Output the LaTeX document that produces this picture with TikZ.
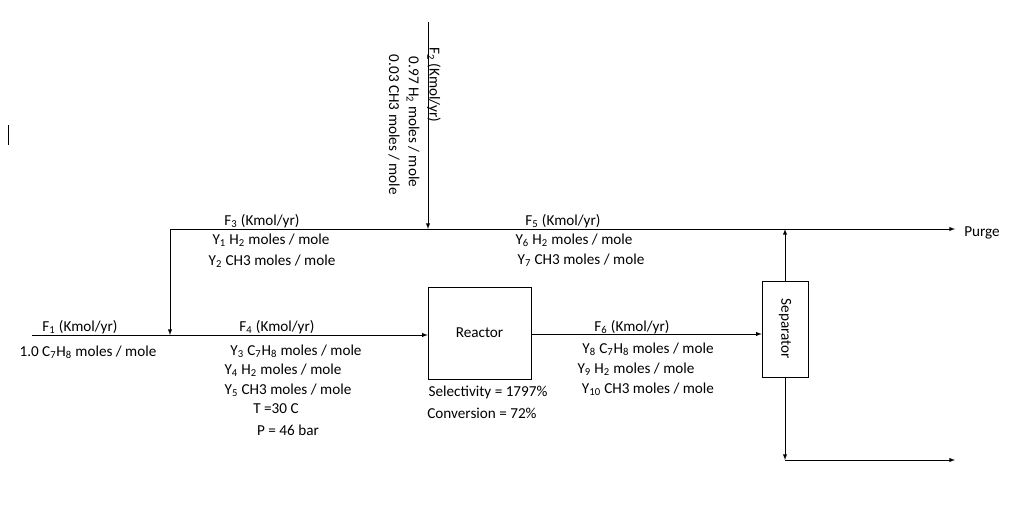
\documentclass[tikz,border=0pt]{standalone}
\usepackage{fontspec}
\setmainfont{Carlito}
\usetikzlibrary{arrows,positioning,calc}
\newcommand{\sub}[1]{\textsubscript{#1}}
\begin{document}
\begin{tikzpicture}[x=0.025cm,y=-0.025cm,font=\fontsize{10.8}{12}\selectfont,
  lbl/.style={inner sep=0pt,anchor=center}]
\useasboundingbox (0,0) rectangle (1024,506);
\draw (8,125) -- (8,145);
% units
\node[draw,minimum width=103*0.025cm,minimum height=92*0.025cm,inner sep=0pt] (reactor) at (479.5,333) {Reactor};
\node[draw,minimum width=96*0.025cm,minimum height=46*0.025cm,inner sep=0pt,rotate=-90] (sep) at (785,329) {Separator};
% stream points
\coordinate (f1) at (32,335);
\coordinate (mix) at (170,335);
\coordinate (split) at (170,229);
\coordinate (f2) at (428,22);
\coordinate (join) at (428,229);
\coordinate (top) at (785,229);
\coordinate (purge) at (955,229);
\coordinate (bot) at (785,460);
\coordinate (prod) at (955,460);
% streams
\draw (f1) -- (mix);
\draw[-latex] (join) -- (split) -- (mix);
\draw[-latex] (f2) -- (join);
\draw[-latex] (split) -- (purge);
\draw[-latex] (mix) -- (reactor.west|-mix);
\draw[-latex] (reactor.east|-0,334) -- (sep.south|-0,334);
\draw[-latex] (sep.west) -- (top);
\draw[-latex] (sep.east) -- (bot);
\draw[-latex] (bot) -- (prod);
% labels
\node[lbl] (purgeL) at (982,233) {Purge};
\node[lbl,rotate=-90] (t2a) at (434,85) {F\sub{2} (Kmol/yr)};
\node[lbl,rotate=-90] (t2b) at (413,122) {0.97 H\sub{2} moles / mole};
\node[lbl,rotate=-90] (t2c) at (394,125) {0.03 CH3 moles / mole};
\node[lbl] (t1a) at (80,327) {F\sub{1} (Kmol/yr)};
\node[lbl] (t1b) at (88,352) {1.0 C\sub{7}H\sub{8} moles / mole};
\node[lbl] (t3a) at (262,221) {F\sub{3} (Kmol/yr)};
\node[lbl] (t3b) at (271,240) {Y\sub{1} H\sub{2} moles / mole};
\node[lbl] (t3c) at (272,261) {Y\sub{2} CH3 moles / mole};
\node[lbl] (t5a) at (563,221) {F\sub{5} (Kmol/yr)};
\node[lbl] (t5b) at (574,240) {Y\sub{6} H\sub{2} moles / mole};
\node[lbl] (t5c) at (581,260) {Y\sub{7} CH3 moles / mole};
\node[lbl] (t4a) at (277,327) {F\sub{4} (Kmol/yr)};
\node[lbl] (t4b) at (296,351) {Y\sub{3} C\sub{7}H\sub{8} moles / mole};
\node[lbl] (t4c) at (283,370) {Y\sub{4} H\sub{2} moles / mole};
\node[lbl] (t4d) at (288,390) {Y\sub{5} CH3 moles / mole};
\node[lbl] (t4e) at (276,409) {T =30 C};
\node[lbl] (t4f) at (288,430) {P = 46 bar};
\node[lbl] (sel) at (488,392) {Selectivity = 1797\%};
\node[lbl] (conv) at (482,413) {Conversion = 72\%};
\node[lbl] (t6a) at (632,327) {F\sub{6} (Kmol/yr)};
\node[lbl] (t6b) at (648,349) {Y\sub{8} C\sub{7}H\sub{8} moles / mole};
\node[lbl] (t6c) at (636,369) {Y\sub{9} H\sub{2} moles / mole};
\node[lbl] (t6d) at (648,389) {Y\sub{10} CH3 moles / mole};
\end{tikzpicture}
\end{document}
